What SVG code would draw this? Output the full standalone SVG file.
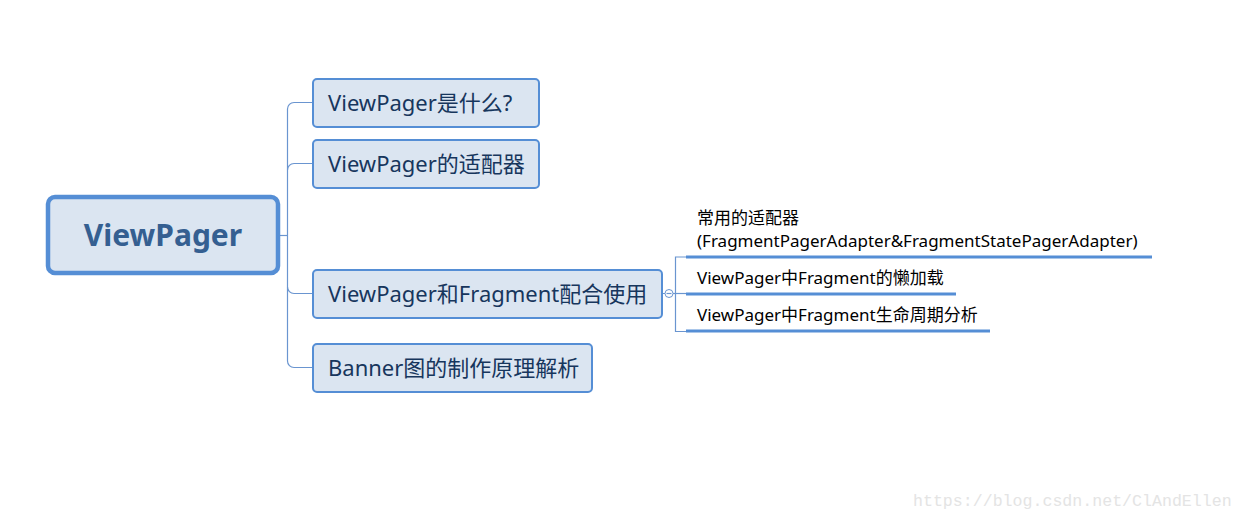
<svg xmlns="http://www.w3.org/2000/svg" width="1245" height="521" viewBox="0 0 1245 521">
<style>
.box{fill:#dbe5f1;stroke:#558ed5;stroke-width:2}
.root{fill:#dbe5f1;stroke:#558ed5;stroke-width:4.5}
.t{font-family:"Noto Sans","Noto Sans CJK SC",sans-serif;font-size:22px;fill:#17365d}
.rt{font-family:"Noto Sans","Noto Sans CJK SC",sans-serif;font-size:30px;font-weight:bold;fill:#355f91}
.st{font-family:"Noto Sans","Noto Sans CJK SC",sans-serif;font-size:17px;fill:#000}
.ln{fill:none;stroke:#6a95d0;stroke-width:1.2}
.ul{fill:none;stroke:#558ed5;stroke-width:3}
.wm{font-family:"Liberation Mono",monospace;font-size:16.6px;fill:#e4e4e4}
</style>
<rect width="1245" height="521" fill="#fff"/>
<g id="connectors">
<path class="ln" d="M279 235.5H287.5"/>
<path class="ln" d="M312 102.5H294a6.5 6.5 0 0 0-6.5 6.5V361a6.5 6.5 0 0 0 6.5 6.5H312"/>
<path class="ln" d="M287.5 170a6.5 6.5 0 0 1 6.5-6.5H312"/>
<path class="ln" d="M287.5 287a6.5 6.5 0 0 0 6.5 6.5H312"/>
<path class="ln" d="M663 293.5H665"/>
<circle cx="669" cy="293.5" r="4" fill="#fff" stroke="#6a95d0" stroke-width="1"/>
<path class="ln" d="M666.5 293.5H671.5" stroke-width="1"/>
<path class="ln" d="M673 293.5H686"/>
<path class="ln" d="M686 257H675.5V331.5H686"/>
<path class="ul" d="M686 257H1152"/>
<path class="ul" d="M686 294H956"/>
<path class="ul" d="M686 331H990"/>
</g>
<g id="root">
<rect class="root" x="48" y="197" width="230" height="76" rx="7"/>
<text class="rt" x="163" y="246" text-anchor="middle">ViewPager</text>
</g>
<g id="n1">
<rect class="box" x="313" y="79" width="226" height="48" rx="4"/>
<text class="t" x="328" y="111">ViewPager是什么?</text>
</g>
<g id="n2">
<rect class="box" x="313" y="140" width="226" height="48" rx="4"/>
<text class="t" x="328" y="172">ViewPager的适配器</text>
</g>
<g id="n3">
<rect class="box" x="313" y="270" width="349" height="48" rx="4"/>
<text class="t" x="328" y="302">ViewPager和Fragment配合使用</text>
</g>
<g id="n4">
<rect class="box" x="313" y="344" width="279" height="48" rx="4"/>
<text class="t" x="328" y="376">Banner图的制作原理解析</text>
</g>
<g id="s1">
<text class="st" x="697" y="224">常用的适配器</text>
<text class="st" x="697" y="247">(FragmentPagerAdapter&amp;FragmentStatePagerAdapter)</text>
</g>
<g id="s2">
<text class="st" x="697" y="284">ViewPager中Fragment的懒加载</text>
</g>
<g id="s3">
<text class="st" x="697" y="321">ViewPager中Fragment生命周期分析</text>
</g>
<text class="wm" x="913" y="506">https://blog.csdn.net/ClAndEllen</text>
</svg>
